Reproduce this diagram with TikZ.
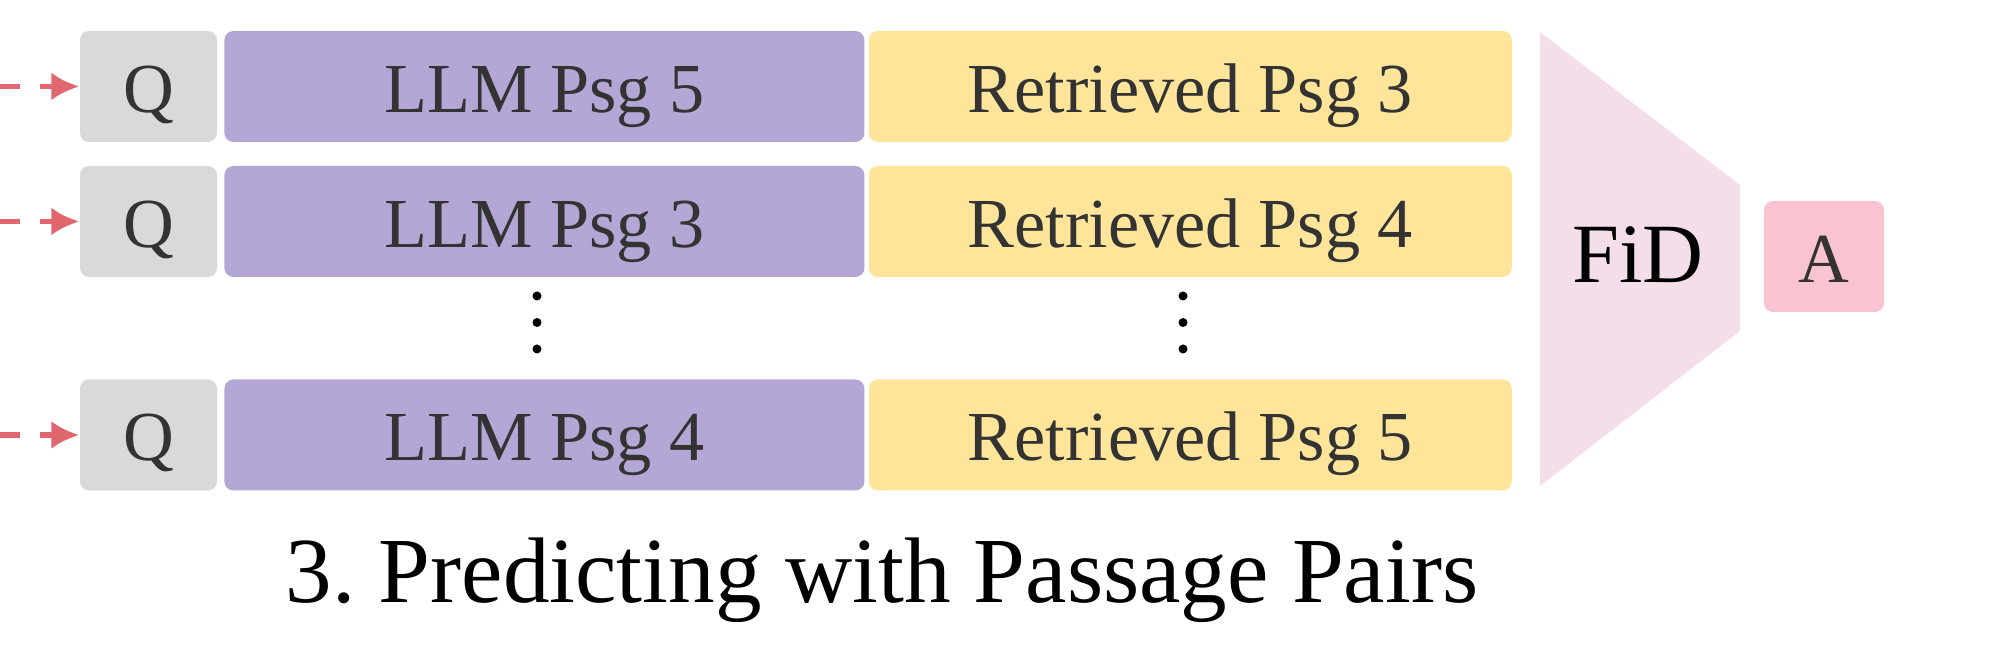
\documentclass[tikz,border=0pt]{standalone}
\usepackage{fontspec}
\setmainfont{Liberation Serif}
\usetikzlibrary{positioning,arrows.meta}

\definecolor{qgray}{HTML}{D9D9D9}
\definecolor{llmpurple}{HTML}{B4A7D6}
\definecolor{retyellow}{HTML}{FFE599}
\definecolor{fidpink}{HTML}{F4DEEA}
\definecolor{anspink}{HTML}{F9C4CF}
\definecolor{feedred}{HTML}{E06670}
\definecolor{psgtext}{HTML}{333333}

\tikzset{
	psg/.style={rounded corners=0.09cm, inner sep=0pt, minimum height=1.11cm, text height=0.52cm, text depth=0pt, font=\fontsize{20}{24}\selectfont, text=psgtext},
	qbox/.style={psg, fill=qgray, minimum width=1.37cm},
	llmbox/.style={psg, fill=llmpurple, minimum width=6.40cm},
	retbox/.style={psg, fill=retyellow, minimum width=6.43cm},
	ansbox/.style={psg, fill=anspink, minimum width=1.20cm},
	feed/.style={draw=feedred, line width=1.5pt, dash pattern=on 0.2cm off 0.2cm, -{Latex[length=0.28cm,width=0.28cm]}}
}

\begin{document}
\begin{tikzpicture}
	\useasboundingbox (0,0) rectangle (20,6.59);

	% passage pairs
	\foreach \r/\y/\l/\k in {1/5.725/5/3, 2/4.375/3/4, 3/2.24/4/5} {
		\coordinate (in\r) at (0,\y);
		\node[qbox] (q\r) at (1.485,\y) {Q};
		\node[llmbox, right=0.06cm of q\r] (llm\r) {LLM Psg \l};
		\node[retbox, right=0.03cm of llm\r] (ret\r) {Retrieved Psg \k};
		\draw[feed] (in\r) -- (q\r.west);
	}

	% dots
	\foreach \d in {3.63,3.365,3.10} {
		\fill (5.37,\d) circle (0.045);
		\fill (11.83,\d) circle (0.045);
	}

	% reader
	\fill[fidpink] (15.40,6.27) -- (17.40,4.74) -- (17.40,3.28) -- (15.40,1.73) -- cycle;
	\node[font=\fontsize{24}{28}\selectfont] (fid) at (16.38,4.04) {FiD};
	\node[ansbox] (ans) at (18.24,4.025) {A};

	\node[font=\fontsize{26.5}{30}\selectfont, anchor=base] (title) at (8.82,0.56) {3.\ Predicting with Passage Pairs};
\end{tikzpicture}
\end{document}
